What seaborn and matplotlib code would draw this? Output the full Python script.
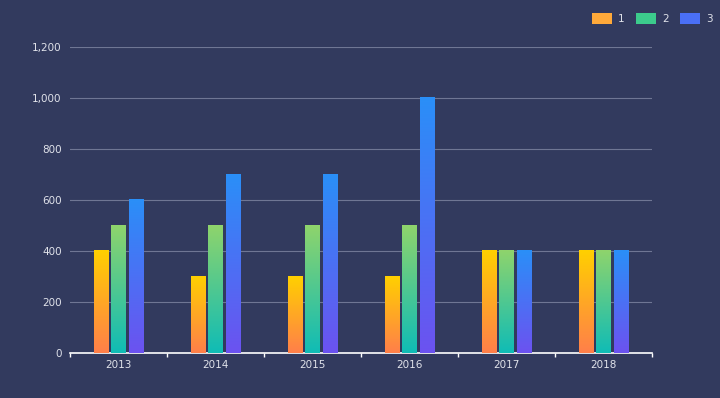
import numpy as np
import pandas as pd
import seaborn as sns
import matplotlib.pyplot as plt
from matplotlib.colors import LinearSegmentedColormap
from matplotlib.patches import Patch

years = ['2013', '2014', '2015', '2016', '2017', '2018']
series_1 = [400, 300, 300, 300, 400, 400]
series_2 = [500, 500, 500, 500, 400, 400]
series_3 = [600, 700, 700, 1000, 400, 400]
series_names = ['1', '2', '3']

# gradient colours per series: (top, bottom)
grads = {
    '1': ('#ffd000', '#ff7f4a'),
    '2': ('#8fd46c', '#0fbcb6'),
    '3': ('#2a8ff8', '#6c52f0'),
}
legend_colors = ['#ffa93a', '#3ccb8c', '#4a6ff5']
bg = '#323a5e'

df = pd.DataFrame({
    'year': years * 3,
    'value': series_1 + series_2 + series_3,
    'series': [s for s in series_names for _ in years],
})

fig = plt.figure(figsize=(7.2, 3.98), dpi=100, facecolor=bg)
ax = fig.add_axes([0.0972, 0.113, 0.8084, 0.769])
ax.set_facecolor(bg)

sns.barplot(data=df, x='year', y='value', hue='series', hue_order=series_names,
            order=years, width=0.545, gap=0.2, errorbar=None, ax=ax,
            legend=False)

# replace flat bars with vertical gradients
for i, name in enumerate(series_names):
    top, bottom = grads[name]
    cmap = LinearSegmentedColormap.from_list(name, [bottom, top])
    for p in ax.patches[i * len(years):(i + 1) * len(years)]:
        x0, w, h = p.get_x(), p.get_width(), p.get_height()
        p.set_facecolor('none')
        p.set_edgecolor('none')
        grad = np.linspace(0, 1, 256).reshape(-1, 1)
        ax.imshow(grad, extent=[x0, x0 + w, 0, h], origin='lower', cmap=cmap,
                  aspect='auto', zorder=3, interpolation='nearest')

ax.set_xlim(-0.5, len(years) - 0.5)
ax.set_ylim(0, 1200)

# axes styling
ax.set_yticks(range(0, 1201, 200))
ax.set_yticklabels([f'{v:,}' for v in range(0, 1201, 200)])
ax.yaxis.grid(True, color='#6f7694', linewidth=0.8)
ax.set_axisbelow(True)
ax.tick_params(axis='y', length=0, colors='#e0e2ea', labelsize=7.5, pad=6)

ax.set_xticks(np.arange(-0.5, len(years), 1.0))
ax.set_xticklabels([])
ax.set_xticks(range(len(years)), minor=True)
ax.set_xticklabels(years, minor=True)
ax.tick_params(axis='x', which='major', length=3, color='#ffffff', width=1)
ax.tick_params(axis='x', which='minor', length=0, colors='#e0e2ea',
               labelsize=7.5, pad=5)

for s in ['top', 'right', 'left']:
    ax.spines[s].set_visible(False)
ax.spines['bottom'].set_color('#ffffff')
ax.spines['bottom'].set_linewidth(1.2)
ax.set_xlabel('')
ax.set_ylabel('')

handles = [Patch(facecolor=c, edgecolor='none', label=n)
           for c, n in zip(legend_colors, series_names)]
fig.legend(handles=handles, loc='upper right', bbox_to_anchor=(1.003, 0.99),
           ncol=3, frameon=False, fontsize=7.5, labelcolor='#e0e2ea',
           handlelength=1.9, handleheight=1.2, columnspacing=1.1,
           handletextpad=0.6)

plt.savefig('out.png', dpi=100, facecolor=bg)
